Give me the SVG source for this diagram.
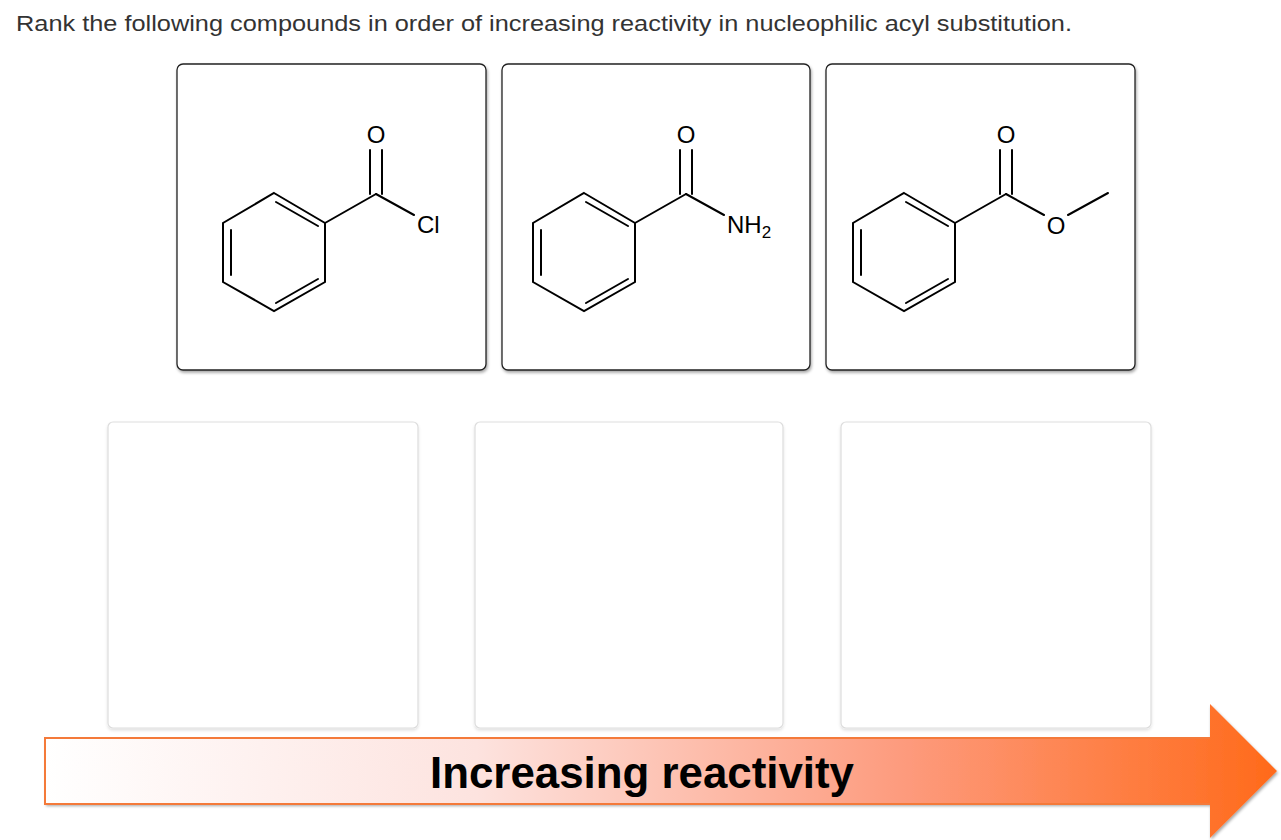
<svg xmlns="http://www.w3.org/2000/svg" width="1281" height="840" viewBox="0 0 1281 840">
<style>
.box{fill:#fff;stroke:#222;stroke-width:1.3}
.drop{fill:#fff;stroke:#ddd;stroke-width:1.2}
.b{stroke:#000;stroke-width:2;fill:none;stroke-linecap:round}
.at{font-family:"Liberation Sans",Arial,sans-serif;font-size:24px;fill:#000}
</style>
<defs>
<linearGradient id="g" x1="0" x2="1" y1="0" y2="0">
<stop offset="0" stop-color="#fff"/><stop offset="0.35" stop-color="#fde3df"/><stop offset="0.7" stop-color="#fd9a7c"/><stop offset="1" stop-color="#ff6a1a"/>
</linearGradient>
<filter id="sh" x="-5%" y="-5%" width="110%" height="110%"><feDropShadow dx="1" dy="2" stdDeviation="1.5" flood-color="#000" flood-opacity="0.35"/></filter>
<filter id="sh2" x="-5%" y="-5%" width="110%" height="110%"><feDropShadow dx="0" dy="2" stdDeviation="1.5" flood-color="#000" flood-opacity="0.12"/></filter>
<g id="ring">
<polygon class="b" points="274,193 325,223 325,282 274,311 223,282 223,223"/>
<line class="b" x1="276" y1="202" x2="318" y2="226"/>
<line class="b" x1="318" y1="279" x2="276" y2="303"/>
<line class="b" x1="231" y1="230" x2="231" y2="275"/>
<line class="b" x1="325" y1="223" x2="376" y2="194"/>
<line class="b" x1="370" y1="150" x2="370" y2="194"/>
<line class="b" x1="382" y1="150" x2="382" y2="194"/>
</g>
</defs>
<text x="16" y="31" font-family="Liberation Sans,Arial,sans-serif" font-size="22.5" fill="#333" textLength="1056" lengthAdjust="spacingAndGlyphs">Rank the following compounds in order of increasing reactivity in nucleophilic acyl substitution.</text>
<g id="c1">
<rect class="box" x="177" y="64" width="309" height="306" rx="6" filter="url(#sh)"/>
<use href="#ring"/>
<text class="at" x="376" y="143" text-anchor="middle">O</text>
<line class="b" x1="376" y1="194" x2="414" y2="215"/>
<text class="at" x="417" y="233">Cl</text>
</g>
<g id="c2">
<rect class="box" x="502" y="64" width="308" height="306" rx="6" filter="url(#sh)"/>
<use href="#ring" transform="translate(310,0)"/>
<text class="at" x="686" y="143" text-anchor="middle">O</text>
<line class="b" x1="686" y1="194" x2="724" y2="215"/>
<text class="at" x="727" y="233">NH<tspan font-size="17" dy="5">2</tspan></text>
</g>
<g id="c3">
<rect class="box" x="826" y="64" width="309" height="306" rx="6" filter="url(#sh)"/>
<use href="#ring" transform="translate(630,0)"/>
<text class="at" x="1006" y="143" text-anchor="middle">O</text>
<line class="b" x1="1006" y1="194" x2="1044" y2="215"/>
<text class="at" x="1056" y="234" text-anchor="middle">O</text>
<line class="b" x1="1068" y1="215" x2="1108" y2="193"/>
</g>
<g id="slots">
<rect class="drop" x="108" y="422" width="310" height="306" rx="5" filter="url(#sh2)"/>
<rect class="drop" x="475" y="422" width="308" height="306" rx="5" filter="url(#sh2)"/>
<rect class="drop" x="841" y="422" width="310" height="306" rx="5" filter="url(#sh2)"/>
</g>
<g id="arrow">
<polygon points="45,738 1210,738 1210,704 1277,771 1210,838 1210,804 45,804" fill="url(#g)" filter="url(#sh)"/>
<polyline points="1210,738 45,738 45,804 1210,804" fill="none" stroke="#f47a3a" stroke-width="2"/>
<text x="642" y="788" text-anchor="middle" font-family="Liberation Sans,Arial,sans-serif" font-weight="bold" font-size="44" fill="#000" textLength="424" lengthAdjust="spacingAndGlyphs">Increasing reactivity</text>
</g>
</svg>
